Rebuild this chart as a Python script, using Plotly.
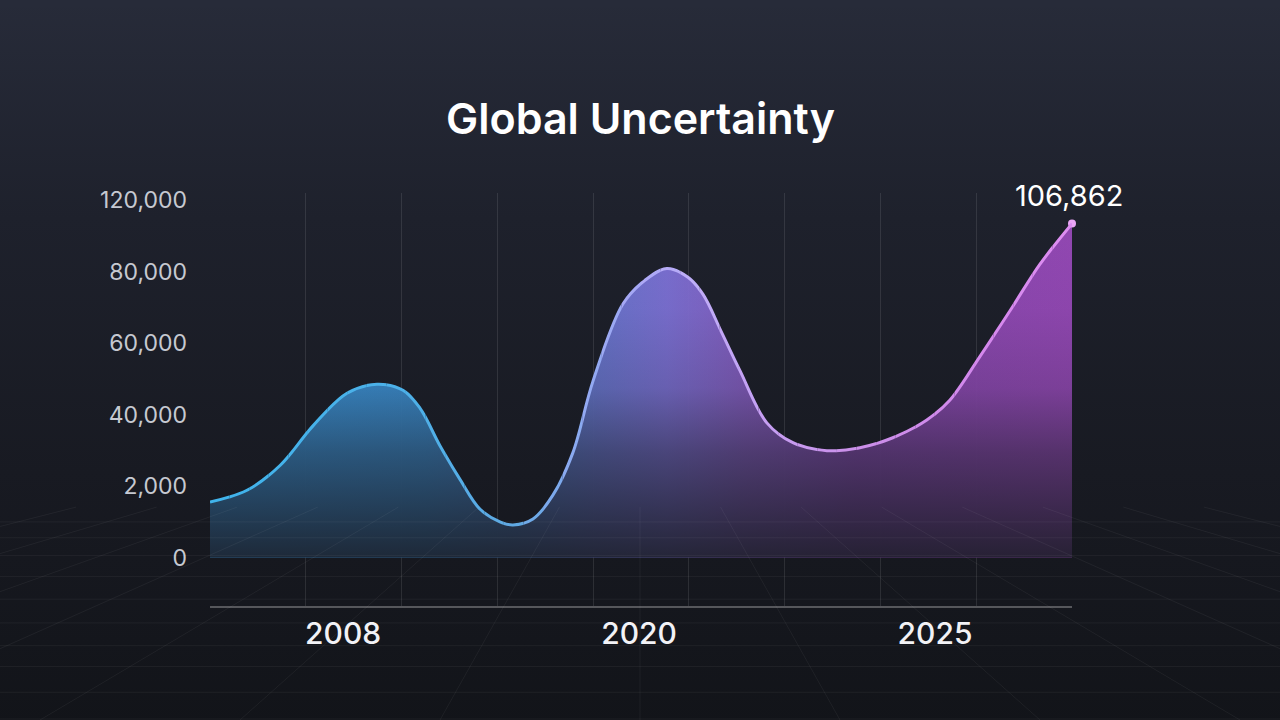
import numpy as np
import plotly.graph_objects as go

# ---------------- data ----------------
title_text = "Global Uncertainty"
y_tick_labels = ["0", "2,000", "40,000", "60,000", "80,000", "120,000"]
y_tick_values = [0, 2000, 40000, 60000, 80000, 120000]
x_tick_labels = ["2008", "2020", "2025"]
x_tick_pos = [1.39, 4.48, 7.57]
x_grid_pos = list(range(10))

x_pos = [0.000, 0.386, 0.731, 1.075, 1.430, 1.743, 2.015, 2.192, 2.401, 2.610,
         2.818, 3.027, 3.163, 3.372, 3.580, 3.789, 3.998, 4.311, 4.541, 4.770,
         4.990, 5.146, 5.344, 5.532, 5.814, 6.086, 6.441, 6.785, 7.129, 7.484,
         7.724, 8.038, 8.351, 8.664, 9.000]
values = [1552, 1884, 12944, 33996, 45980, 48480, 46820, 41820, 23470, 5572,
          1358, 998, 914, 1080, 1746, 19784, 49300, 70920, 77560, 81760,
          78400, 73680, 62880, 52360, 35592, 25066, 20848, 22406, 27688, 37150,
          44040, 56240, 68980, 84000, 106862]
end_label = "106,862"

# ---------------- styling ----------------
W, H = 1280, 720
FONT = "Inter"
TOP_BG = "#272b39"
line_stops = [(0.0, "#3fb4ec"), (0.25, "#4fb0e8"), (0.35, "#5fa8e2"), (0.42, "#8aaaf0"),
              (0.50, "#aaa8f6"), (0.56, "#bfaef8"), (0.65, "#c69ef2"), (0.75, "#ca8fe9"),
              (0.90, "#d488ec"), (1.0, "#de8ef2")]
fill_stops = [(0.0, "#3c9ee6"), (0.25, "#3e96dc"), (0.35, "#4c86ce"), (0.45, "#6c7ad6"),
              (0.53, "#8074dc"), (0.62, "#8a60c8"), (0.75, "#8c4cb8"), (1.0, "#9a4abc")]
SMOOTH = 1.0


def hex_rgb(h):
    h = h.lstrip("#")
    return [int(h[i:i + 2], 16) for i in (0, 2, 4)]


def sample(stops, t):
    for (t0, c0), (t1, c1) in zip(stops[:-1], stops[1:]):
        if t0 <= t <= t1:
            f = (t - t0) / (t1 - t0) if t1 > t0 else 0
            a, b = hex_rgb(c0), hex_rgb(c1)
            return [round(a[k] + (b[k] - a[k]) * f) for k in range(3)]
    return hex_rgb(stops[-1][1])


# y axis: labelled ticks equally spaced; values placed along the labelled scale
tick_index = list(range(len(y_tick_values)))
y_plot = np.interp(values, y_tick_values, tick_index)

px_per_unit = 72.2
y_zero_px = 556
plot_top_px, plot_bot_px = 188, 605
plot_l_px, plot_r_px = 210, 1072
y_range = [(y_zero_px - plot_bot_px) / px_per_unit, (y_zero_px - plot_top_px) / px_per_unit]
x_range = [0, 9]
xd = [plot_l_px / W, plot_r_px / W]
yd = [(H - plot_bot_px) / H, (H - plot_top_px) / H]

fig = go.Figure()

# background gradient (full-paper subplot)
fig.add_trace(go.Scatter(
    x=[-0.01, 1.01, 1.01, -0.01, -0.01], y=[-0.01, -0.01, 1.01, 1.01, -0.01], mode="lines",
    fill="toself", line=dict(width=0), hoverinfo="skip", showlegend=False,
    fillgradient=dict(type="vertical",
                      colorscale=[[0, "#121419"], [0.35, "#181a22"], [0.7, "#1e212c"], [1, TOP_BG]]),
    xaxis="x", yaxis="y"))

# area fill: horizontal colour gradient
fill_cs = [[t, f"rgba({c[0]},{c[1]},{c[2]},0.93)"] for t, c in
           [(t, hex_rgb(h)) for t, h in fill_stops]]
fig.add_trace(go.Scatter(
    x=x_pos, y=y_plot, mode="lines",
    line=dict(width=0, shape="spline", smoothing=SMOOTH, simplify=False),
    fill="tozeroy", fillgradient=dict(type="horizontal", colorscale=fill_cs, start=0, stop=9),
    hoverinfo="skip", showlegend=False, xaxis="x2", yaxis="y2"))

# vertical fade toward the floor
fade = [(0, 1.0), (0.06, 0.9), (0.36, 0.5), (0.54, 0.18), (0.76, 0.04), (1, 0.0)]
fade_cs = [[s, f"rgba(26,28,37,{a})"] for s, a in fade]
fig.add_trace(go.Scatter(
    x=x_pos, y=y_plot, mode="lines",
    line=dict(width=0, shape="spline", smoothing=SMOOTH, simplify=False),
    fill="tozeroy", fillgradient=dict(type="vertical", colorscale=fade_cs, start=-0.3, stop=4.7),
    hoverinfo="skip", showlegend=False, xaxis="x2", yaxis="y2"))

# gradient line: the same curve drawn in narrow clipped slices
N = 44
layout_axes = {}
for i in range(N):
    t = (i + 0.5) / N
    lc = sample(line_stops, t)
    ax_id = i + 3
    fig.add_trace(go.Scatter(
        x=x_pos, y=y_plot, mode="lines",
        line=dict(color=f"rgb({lc[0]},{lc[1]},{lc[2]})", width=3.0, shape="spline",
                  smoothing=SMOOTH, simplify=False),
        hoverinfo="skip", showlegend=False, xaxis=f"x{ax_id}", yaxis="y2"))
    d0 = xd[0] + (xd[1] - xd[0]) * i / N
    d1 = xd[0] + (xd[1] - xd[0]) * (i + 1) / N
    r0 = x_range[0] + (x_range[1] - x_range[0]) * i / N
    r1 = x_range[0] + (x_range[1] - x_range[0]) * (i + 1) / N
    layout_axes[f"xaxis{ax_id}"] = dict(domain=[d0, d1], range=[r0, r1], anchor="y2",
                                        visible=False, fixedrange=True)

# end point marker + label
fig.add_trace(go.Scatter(
    x=[x_pos[-1]], y=[y_plot[-1]], mode="markers",
    marker=dict(size=8, color="#eaa6f6"), cliponaxis=False,
    hoverinfo="skip", showlegend=False, xaxis="x2", yaxis="y2"))

fig.add_annotation(x=x_pos[-1], y=y_plot[-1], xref="x2", yref="y2", text=end_label,
                   showarrow=False, xanchor="center", yanchor="middle", xshift=-3, yshift=28,
                   font=dict(family=FONT, size=29, color="#ffffff"))

fig.add_annotation(x=0.5, y=1 - 112 / H, xref="paper", yref="paper", text=title_text,
                   showarrow=False, xanchor="center", yanchor="middle",
                   font=dict(family=FONT, size=43, color="#ffffff", weight=600))

# decorative perspective floor grid
shapes = []
floor_col = "rgba(255,255,255,0.05)"
for py in [520, 536, 554, 575, 598, 622, 645, 666, 692, 719]:
    shapes.append(dict(type="line", xref="paper", yref="paper", x0=0, x1=1,
                       y0=1 - py / H, y1=1 - py / H, line=dict(color=floor_col, width=1), layer="above"))
vx, vy = 640, 360
for k in range(-8, 9):
    xb = vx + 200 * k
    top_py = 505
    xt = vx + (xb - vx) * (top_py - vy) / (H - vy)
    shapes.append(dict(type="line", xref="paper", yref="paper", x0=xt / W, x1=xb / W,
                       y0=1 - top_py / H, y1=0, line=dict(color=floor_col, width=1), layer="above"))

fig.update_layout(
    width=W, height=H, margin=dict(l=0, r=0, t=0, b=0, pad=0),
    paper_bgcolor=TOP_BG, plot_bgcolor="rgba(0,0,0,0)",
    showlegend=False, shapes=shapes, hovermode=False,
    xaxis=dict(domain=[0, 1], range=[0, 1], visible=False, fixedrange=True),
    yaxis=dict(domain=[0, 1], range=[0, 1], visible=False, fixedrange=True),
    xaxis2=dict(domain=xd, range=x_range, anchor="y2", tickvals=x_tick_pos, ticktext=x_tick_labels,
                showgrid=False, zeroline=False, ticks="", showline=True,
                linecolor="rgba(255,255,255,0.28)", linewidth=1.5,
                tickfont=dict(family=FONT, size=30, color="#f2f2f6", weight=500),
                ticklabelstandoff=0, fixedrange=True,
                minor=dict(tickvals=x_grid_pos, showgrid=True, gridcolor="rgba(255,255,255,0.10)",
                           gridwidth=1, ticks="")),
    yaxis2=dict(domain=yd, range=y_range, anchor="x2", tickvals=tick_index, ticktext=y_tick_labels,
                showgrid=False, zeroline=False, showline=False, ticks="",
                tickfont=dict(family=FONT, size=23, color="#c6c9d1"),
                ticklabelstandoff=22, fixedrange=True),
    **layout_axes,
)

fig.write_html("out.html", config={"displayModeBar": False, "staticPlot": True},
               post_script="document.body.style.margin='0';document.body.style.overflow='hidden';"
                           "document.body.style.background='" + TOP_BG + "';")
